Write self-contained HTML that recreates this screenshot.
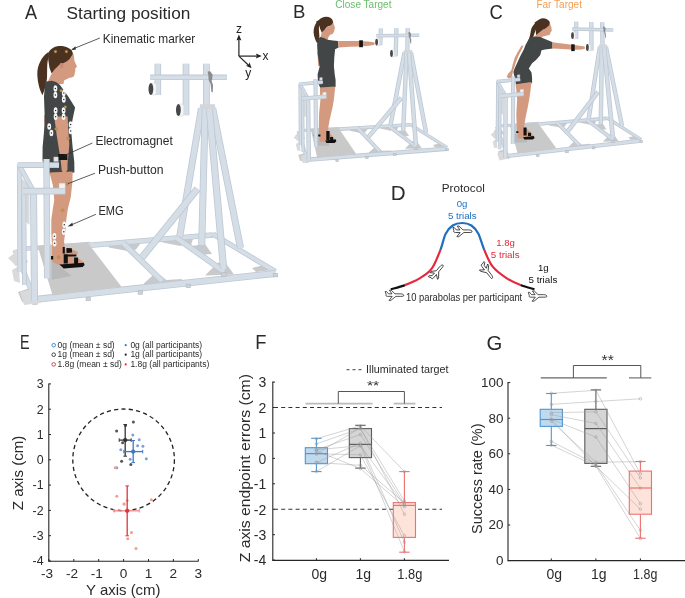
<!DOCTYPE html>
<html><head><meta charset="utf-8"><title>Figure</title>
<style>html,body{margin:0;padding:0;background:#fff;} svg{display:block;} text{font-family:"Liberation Sans",Arial,sans-serif;}</style>
</head><body>
<svg width="685" height="598" viewBox="0 0 685 598">
<rect width="685" height="598" fill="#fff"/>
<polygon points="108.0,244.7 125.5,242.5 129.2,251.3 108.8,247.6" fill="#c8c9cb" stroke="none" stroke-width="0"/>
<polygon points="127.7,242.5 142.3,241.1 135.8,249.8 132.1,249.8" fill="#c8c9cb" stroke="none" stroke-width="0"/>
<polygon points="161.3,238.9 177.4,238.1 181.8,246.2 162.8,242.5" fill="#c8c9cb" stroke="none" stroke-width="0"/>
<polygon points="181.8,238.1 193.4,237.4 190.5,246.9 184.5,242.5" fill="#c8c9cb" stroke="none" stroke-width="0"/>
<polygon points="143.8,283.4 152.6,275.4 161.0,275.9 166.5,280.0 181.8,279.0 181.8,282.0 143.8,285.5" fill="#c8c9cb" stroke="none" stroke-width="0"/>
<polygon points="192.0,246.0 205.0,244.0 212.0,254.0 198.0,255.0" fill="#c8c9cb" stroke="none" stroke-width="0"/>
<polygon points="205.0,275.5 218.0,262.5 226.0,263.5 234.0,274.5" fill="#c8c9cb" stroke="none" stroke-width="0"/>
<polygon points="252.0,268.0 266.0,264.5 272.0,270.0 256.0,272.0" fill="#c8c9cb" stroke="none" stroke-width="0"/>
<polygon points="10.0,258.0 20.0,249.0 28.0,262.0 16.0,266.0" fill="#c8c9cb" stroke="none" stroke-width="0"/>
<polygon points="18.0,292.0 30.0,288.0 36.0,300.0 22.0,302.0" fill="#c8c9cb" stroke="none" stroke-width="0"/>
<line x1="15.0" y1="250.0" x2="35.0" y2="300.0" stroke="#bdc8d4" stroke-width="5.0"/><line x1="15.0" y1="250.0" x2="35.0" y2="300.0" stroke="#d5dee7" stroke-width="3.4"/>
<line x1="20.0" y1="249.0" x2="90.4" y2="244.1" stroke="#bdc8d4" stroke-width="4.5"/><line x1="20.0" y1="249.0" x2="90.4" y2="244.1" stroke="#d5dee7" stroke-width="2.9"/>
<line x1="90.4" y1="245.2" x2="212.8" y2="235.0" stroke="#bdc8d4" stroke-width="5.6"/><line x1="90.4" y1="245.2" x2="212.8" y2="235.0" stroke="#d5dee7" stroke-width="4.0"/>
<line x1="212.8" y1="234.0" x2="275.5" y2="271.6" stroke="#bdc8d4" stroke-width="5.2"/><line x1="212.8" y1="234.0" x2="275.5" y2="271.6" stroke="#d5dee7" stroke-width="3.6"/>
<line x1="123.0" y1="243.0" x2="162.2" y2="281.1" stroke="#bdc8d4" stroke-width="6.0"/><line x1="123.0" y1="243.0" x2="162.2" y2="281.1" stroke="#d5dee7" stroke-width="4.4"/>
<line x1="176.4" y1="237.7" x2="224.0" y2="271.6" stroke="#bdc8d4" stroke-width="6.0"/><line x1="176.4" y1="237.7" x2="224.0" y2="271.6" stroke="#d5dee7" stroke-width="4.4"/>
<line x1="201.5" y1="108.4" x2="179.7" y2="236.5" stroke="#bdc8d4" stroke-width="7.0"/><line x1="201.5" y1="108.4" x2="179.7" y2="236.5" stroke="#d5dee7" stroke-width="5.4"/>
<line x1="212.7" y1="108.4" x2="240.5" y2="248.0" stroke="#bdc8d4" stroke-width="7.0"/><line x1="212.7" y1="108.4" x2="240.5" y2="248.0" stroke="#d5dee7" stroke-width="5.4"/>
<line x1="205.2" y1="108.4" x2="201.7" y2="245.0" stroke="#bdc8d4" stroke-width="7.0"/><line x1="205.2" y1="108.4" x2="201.7" y2="245.0" stroke="#d5dee7" stroke-width="5.4"/>
<line x1="209.3" y1="108.4" x2="223.6" y2="269.0" stroke="#bdc8d4" stroke-width="7.2"/><line x1="209.3" y1="108.4" x2="223.6" y2="269.0" stroke="#d5dee7" stroke-width="5.6"/>
<line x1="197.5" y1="188.7" x2="142.0" y2="257.4" stroke="#bdc8d4" stroke-width="7.2"/><line x1="197.5" y1="188.7" x2="142.0" y2="257.4" stroke="#d5dee7" stroke-width="5.6"/>
<line x1="206.4" y1="63.8" x2="206.4" y2="107.0" stroke="#bdc8d4" stroke-width="6.8"/><line x1="206.4" y1="63.8" x2="206.4" y2="107.0" stroke="#d5dee7" stroke-width="5.2"/>
<line x1="157.8" y1="63.8" x2="157.8" y2="95.0" stroke="#bdc8d4" stroke-width="6.6"/><line x1="157.8" y1="63.8" x2="157.8" y2="95.0" stroke="#d5dee7" stroke-width="5.0"/>
<line x1="186.0" y1="63.8" x2="186.0" y2="115.2" stroke="#bdc8d4" stroke-width="6.7"/><line x1="186.0" y1="63.8" x2="186.0" y2="115.2" stroke="#d5dee7" stroke-width="5.1"/>
<line x1="150.2" y1="77.3" x2="226.9" y2="77.3" stroke="#bdc8d4" stroke-width="5.4"/><line x1="150.2" y1="77.3" x2="226.9" y2="77.3" stroke="#d5dee7" stroke-width="3.8"/>
<line x1="34.0" y1="299.6" x2="275.5" y2="273.4" stroke="#bdc8d4" stroke-width="7.0"/><line x1="34.0" y1="299.6" x2="275.5" y2="273.4" stroke="#d5dee7" stroke-width="5.4"/>
<polygon points="37.7,246.3 87.6,242.6 121.5,286.8 52.6,295.5" fill="#c9c9c9" stroke="none" stroke-width="0"/>
<rect x="32.7" y="300.8" width="4.6" height="3.6" fill="#cdd1d5" stroke="#aeb5bc" stroke-width="0.5"/>
<rect x="86.0" y="297.2" width="4.6" height="3.6" fill="#cdd1d5" stroke="#aeb5bc" stroke-width="0.5"/>
<rect x="138.1" y="290.7" width="4.6" height="3.6" fill="#cdd1d5" stroke="#aeb5bc" stroke-width="0.5"/>
<rect x="186.0" y="284.1" width="4.6" height="3.6" fill="#cdd1d5" stroke="#aeb5bc" stroke-width="0.5"/>
<rect x="221.7" y="272.8" width="4.6" height="3.6" fill="#cdd1d5" stroke="#aeb5bc" stroke-width="0.5"/>
<rect x="273.2" y="273.3" width="4.6" height="3.6" fill="#cdd1d5" stroke="#aeb5bc" stroke-width="0.5"/>
<rect x="150.9" y="83.0" width="5.5" height="12.0" rx="2.0" fill="#f6f6f6" stroke="#cfcfcf" stroke-width="0.5"/>
<ellipse cx="150.9" cy="89.0" rx="2.4" ry="6.0" fill="#454849"/>
<rect x="178.4" y="104.0" width="5.5" height="12.0" rx="2.0" fill="#f6f6f6" stroke="#cfcfcf" stroke-width="0.5"/>
<ellipse cx="178.4" cy="110.0" rx="2.4" ry="6.0" fill="#454849"/>
<polygon points="207.6,71.5 210.2,71.2 212.6,74.5 212.2,79.0 211.6,81.0 213.0,85.0 212.8,92.3 211.4,92.0 210.6,84.0 208.6,80.0 208.4,76.0" fill="#8a8d90" stroke="none" stroke-width="0"/>
<polygon points="200.0,104.2 215.0,104.2 215.4,109.0 199.6,109.0" fill="#d3d6da" stroke="none" stroke-width="0"/>
<polygon points="19.5,176.0 29.5,186.0 29.5,225.0 21.0,218.0" fill="#d8dadc" stroke="none" stroke-width="0"/>
<polygon points="8.0,258.0 20.0,249.0 28.0,262.0 16.0,266.0" fill="#d8dadc" stroke="none" stroke-width="0"/>
<polygon points="20.0,292.0 32.0,289.0 41.0,303.0 24.0,305.0" fill="#d8dadc" stroke="none" stroke-width="0"/>
<polygon points="12.0,270.0 19.0,266.0 20.0,283.0 14.0,281.0" fill="#d8dadc" stroke="none" stroke-width="0"/>
<line x1="19.3" y1="164.5" x2="19.8" y2="272.0" stroke="#bdc8d4" stroke-width="4.8"/><line x1="19.3" y1="164.5" x2="19.8" y2="272.0" stroke="#d5dee7" stroke-width="3.2"/>
<line x1="23.8" y1="194.0" x2="24.5" y2="285.0" stroke="#bdc8d4" stroke-width="4.8"/><line x1="23.8" y1="194.0" x2="24.5" y2="285.0" stroke="#d5dee7" stroke-width="3.2"/>
<line x1="33.5" y1="189.0" x2="34.5" y2="301.0" stroke="#bdc8d4" stroke-width="7.0"/><line x1="33.5" y1="189.0" x2="34.5" y2="301.0" stroke="#d5dee7" stroke-width="5.4"/>
<line x1="19.3" y1="165.6" x2="32.2" y2="188.9" stroke="#bdc8d4" stroke-width="5.2"/><line x1="19.3" y1="165.6" x2="32.2" y2="188.9" stroke="#d5dee7" stroke-width="3.6"/>
<path d="M51.7,259 L71.5,276 L51.7,279.8 Z" fill="#b9b9b9"/>
<path d="M48.5,52 C44,54.5 38.5,62 37.4,71 C36.8,80 39.5,90 42.5,95.2 C44.5,90 46.5,84 47,78 C47.4,70 46.6,62 48.8,57 Z" fill="#4b3220"/>
<path d="M71.5,50.5 C73,52 73.6,54 74.1,57 L74.3,60.5 L77.0,66.8 L75.2,68.6 L75.4,71.0 L74.9,72.6 L74.3,75.6 C73.4,77.2 71.6,77.8 70.1,77.6 L66,79.4 L64.1,80.4 L63.4,84.0 L45.5,84.5 L48.1,81.1 L51.2,74.5 L58,64 L63,62.5 L69,58 Z" fill="#d39a7f"/>
<path d="M48.1,53.5 C50,48.5 55,46 60.1,46.0 C65,46.0 69.5,47.8 71.8,50.6 L72.8,54 L69.6,59 L66.5,61.5 L63.1,63.2 L60.5,63.5 L59.1,65.1 L55,69 L51.6,73.4 L49.5,68 L48.3,60 Z" fill="#4b3220"/>
<path d="M60.2,63.6 C61.5,62.6 63.2,63.2 63.3,65.2 C63.4,67 62.2,68.5 60.8,68.2 Z" fill="#c38a70"/>
<path d="M44.2,115 L51.7,116 L51.7,136 L44.5,137 Z" fill="#d39a7f"/>
<path d="M45,81.7 L51.7,80.8 L56,82 L60,85 L68.4,96.7 L75.1,107.4 L72.6,119.3 L71,128.5 L72.6,146.9 L74.3,162 L74.4,172.4 L62.6,173.4 L49.2,174.2 L44,168 L42.5,160 L42.6,147 L43.4,138.5 L44.6,125 L44.6,113.4 L44,97 Z" fill="#424647"/>
<path d="M49.5,172.5 L72.6,171.5 L72.4,182 L70.8,197.1 L67.8,209.1 L66.3,219.6 L65.6,230.2 L64.1,240.7 L64.6,248 L66.4,256 L64,259 L53,262 L52,254.2 L52,245.2 L51.3,233.2 L51.3,219.6 L52.8,209.1 L54.3,200.1 L52.8,185 Z" fill="#d39a7f"/>
<path d="M54.2,116.4 L67.6,116.4 L68.3,130 L69.3,143.5 L68.6,153.8 L67.6,162 L67.4,170 L64.5,174 L61.8,171 L60.6,160 L59.6,153.6 L56.7,135.2 Z" fill="#d39a7f"/>
<rect x="58.2" y="154.0" width="9.2" height="6.0" fill="#161616"/>
<path d="M65,249.6 L72,249.2 L77.8,252.0 L77.4,254.6 L65,255.6 Z" fill="#d39a7f"/>
<path d="M52.6,255.5 L64,254.4 L72,256.2 L80,259.2 L83.6,262.2 L82.5,264.6 L60,265.6 L52.4,262 Z" fill="#d39a7f"/>
<path d="M66.4,248 L71.8,248.2 L72.2,252.6 L66.6,253 Z M62.7,247 L64.8,247 L64.8,253.4 L62.7,253.4 Z M63.7,254.2 L67.8,254.2 L67.8,263.4 L63.7,263.4 Z M64.4,254.2 L76.4,254.6 L76.4,256.6 L64.4,256.6 Z M74.1,257.6 L78.1,257.6 L78.1,263.4 L74.1,263.4 Z M59.4,264.6 L83.8,262.8 L84.6,265 L82.6,267.1 L63.7,268.5 Z M51,256 L53.2,256 L53.2,259.6 L51,259.6 Z" fill="#111"/>
<ellipse cx="55.4" cy="88.5" rx="1.9" ry="3.3" fill="#f8f8f8"/><circle cx="55.4" cy="88.5" r="0.75" fill="#333"/>
<ellipse cx="55.4" cy="95.0" rx="1.9" ry="3.3" fill="#f8f8f8"/><circle cx="55.4" cy="95.0" r="0.75" fill="#333"/>
<ellipse cx="63.8" cy="93.0" rx="1.9" ry="3.3" fill="#f8f8f8"/><circle cx="63.8" cy="93.0" r="0.75" fill="#333"/>
<ellipse cx="63.8" cy="99.4" rx="1.9" ry="3.3" fill="#f8f8f8"/><circle cx="63.8" cy="99.4" r="0.75" fill="#333"/>
<ellipse cx="55.6" cy="110.6" rx="1.9" ry="3.3" fill="#f8f8f8"/><circle cx="55.6" cy="110.6" r="0.75" fill="#333"/>
<ellipse cx="55.6" cy="116.8" rx="1.9" ry="3.3" fill="#f8f8f8"/><circle cx="55.6" cy="116.8" r="0.75" fill="#333"/>
<ellipse cx="63.6" cy="110.6" rx="1.9" ry="3.3" fill="#f8f8f8"/><circle cx="63.6" cy="110.6" r="0.75" fill="#333"/>
<ellipse cx="63.6" cy="116.8" rx="1.9" ry="3.3" fill="#f8f8f8"/><circle cx="63.6" cy="116.8" r="0.75" fill="#333"/>
<ellipse cx="70.6" cy="124.5" rx="1.9" ry="3.3" fill="#f8f8f8"/><circle cx="70.6" cy="124.5" r="0.75" fill="#333"/>
<ellipse cx="70.6" cy="131.0" rx="1.9" ry="3.3" fill="#f8f8f8"/><circle cx="70.6" cy="131.0" r="0.75" fill="#333"/>
<ellipse cx="49.2" cy="126.5" rx="1.9" ry="3.3" fill="#f8f8f8"/><circle cx="49.2" cy="126.5" r="0.75" fill="#333"/>
<ellipse cx="51.4" cy="133.0" rx="1.9" ry="3.3" fill="#f8f8f8"/><circle cx="51.4" cy="133.0" r="0.75" fill="#333"/>
<ellipse cx="64.3" cy="224.8" rx="1.9" ry="3.3" fill="#f8f8f8"/><circle cx="64.3" cy="224.8" r="0.75" fill="#333"/>
<ellipse cx="63.8" cy="231.8" rx="1.9" ry="3.3" fill="#f8f8f8"/><circle cx="63.8" cy="231.8" r="0.75" fill="#333"/>
<ellipse cx="54.4" cy="236.2" rx="1.9" ry="3.3" fill="#f8f8f8"/><circle cx="54.4" cy="236.2" r="0.75" fill="#333"/>
<ellipse cx="54.6" cy="243.2" rx="1.9" ry="3.3" fill="#f8f8f8"/><circle cx="54.6" cy="243.2" r="0.75" fill="#333"/>
<circle cx="55.5" cy="51.6" r="1.3" fill="#d9a431" stroke="#7d7466" stroke-width="0.5"/>
<circle cx="66.4" cy="51.6" r="1.3" fill="#d9a431" stroke="#7d7466" stroke-width="0.5"/>
<circle cx="61.1" cy="90.7" r="1.3" fill="#d9a431" stroke="#7d7466" stroke-width="0.5"/>
<circle cx="65.3" cy="107" r="1.3" fill="#d9a431" stroke="#7d7466" stroke-width="0.5"/>
<circle cx="68.3" cy="138.5" r="1.3" fill="#d9a431" stroke="#7d7466" stroke-width="0.5"/>
<circle cx="67.1" cy="183.8" r="1.3" fill="#d9a431" stroke="#7d7466" stroke-width="0.5"/>
<circle cx="62.6" cy="210.3" r="1.3" fill="#d9a431" stroke="#7d7466" stroke-width="0.5"/>
<circle cx="58.7" cy="257.3" r="1.3" fill="#d9a431" stroke="#7d7466" stroke-width="0.5"/>
<circle cx="56" cy="129" r="1.3" fill="#d9a431" stroke="#7d7466" stroke-width="0.5"/>
<line x1="17.6" y1="165.1" x2="59.0" y2="165.1" stroke="#bdc8d4" stroke-width="5.6"/><line x1="17.6" y1="165.1" x2="59.0" y2="165.1" stroke="#d5dee7" stroke-width="4.0"/>
<line x1="46.5" y1="159.0" x2="47.2" y2="278.3" stroke="#bdc8d4" stroke-width="6.4"/><line x1="46.5" y1="159.0" x2="47.2" y2="278.3" stroke="#d5dee7" stroke-width="4.8"/>
<line x1="23.0" y1="191.2" x2="65.2" y2="191.2" stroke="#bdc8d4" stroke-width="6.7"/><line x1="23.0" y1="191.2" x2="65.2" y2="191.2" stroke="#d5dee7" stroke-width="5.1"/>
<polygon points="59.0,183.2 65.2,183.2 65.2,188.4 59.0,188.4" fill="#f4f4f4" stroke="#c4c4c4" stroke-width="0.5"/>
<polygon points="53.8,157.0 58.2,157.0 58.2,161.5 53.8,161.5" fill="#e4e6e8" stroke="#c0c0c0" stroke-width="0.5"/>
<polygon points="349.6,129.1 359.5,128.0 361.4,133.2 349.9,130.8" fill="#c8c9cb" stroke="none" stroke-width="0"/>
<polygon points="360.7,128.0 369.0,127.4 365.1,132.4 363.0,132.4" fill="#c8c9cb" stroke="none" stroke-width="0"/>
<polygon points="379.9,126.4 389.2,126.1 391.6,130.9 380.7,128.5" fill="#c8c9cb" stroke="none" stroke-width="0"/>
<polygon points="391.7,126.2 398.4,125.9 396.6,131.5 393.2,128.8" fill="#c8c9cb" stroke="none" stroke-width="0"/>
<polygon points="369.0,152.3 374.3,147.7 379.1,148.2 382.2,150.7 391.1,150.4 391.1,152.2 369.0,153.6" fill="#c8c9cb" stroke="none" stroke-width="0"/>
<polygon points="397.5,131.0 405.1,129.9 409.1,136.0 400.9,136.4" fill="#c8c9cb" stroke="none" stroke-width="0"/>
<polygon points="404.8,148.7 412.6,141.1 417.3,141.9 422.0,148.6" fill="#c8c9cb" stroke="none" stroke-width="0"/>
<polygon points="432.9,145.0 441.3,143.1 444.9,146.6 435.3,147.5" fill="#c8c9cb" stroke="none" stroke-width="0"/>
<polygon points="295.3,135.4 301.0,130.4 304.9,137.9 298.2,140.0" fill="#c8c9cb" stroke="none" stroke-width="0"/>
<polygon points="298.3,155.0 305.0,152.9 307.9,160.1 300.2,160.9" fill="#c8c9cb" stroke="none" stroke-width="0"/>
<line x1="298.3" y1="130.9" x2="307.4" y2="160.0" stroke="#bdc8d4" stroke-width="3.3"/><line x1="298.3" y1="130.9" x2="307.4" y2="160.0" stroke="#d5dee7" stroke-width="1.7"/>
<line x1="301.0" y1="130.4" x2="339.7" y2="128.5" stroke="#bdc8d4" stroke-width="3.0"/><line x1="301.0" y1="130.4" x2="339.7" y2="128.5" stroke="#d5dee7" stroke-width="1.4"/>
<line x1="339.7" y1="129.1" x2="409.8" y2="124.7" stroke="#bdc8d4" stroke-width="3.6"/><line x1="339.7" y1="129.1" x2="409.8" y2="124.7" stroke="#d5dee7" stroke-width="2.0"/>
<line x1="409.8" y1="124.1" x2="447.1" y2="147.6" stroke="#bdc8d4" stroke-width="3.4"/><line x1="409.8" y1="124.1" x2="447.1" y2="147.6" stroke="#d5dee7" stroke-width="1.8"/>
<line x1="358.0" y1="128.3" x2="379.7" y2="151.3" stroke="#bdc8d4" stroke-width="3.9"/><line x1="358.0" y1="128.3" x2="379.7" y2="151.3" stroke="#d5dee7" stroke-width="2.3"/>
<line x1="388.6" y1="125.9" x2="416.1" y2="146.7" stroke="#bdc8d4" stroke-width="3.9"/><line x1="388.6" y1="125.9" x2="416.1" y2="146.7" stroke="#d5dee7" stroke-width="2.3"/>
<line x1="404.5" y1="52.5" x2="390.5" y2="125.2" stroke="#bdc8d4" stroke-width="4.4"/><line x1="404.5" y1="52.5" x2="390.5" y2="125.2" stroke="#d5dee7" stroke-width="2.8"/>
<line x1="410.9" y1="52.4" x2="426.1" y2="132.8" stroke="#bdc8d4" stroke-width="4.4"/><line x1="410.9" y1="52.4" x2="426.1" y2="132.8" stroke="#d5dee7" stroke-width="2.8"/>
<line x1="406.6" y1="52.5" x2="403.2" y2="130.5" stroke="#bdc8d4" stroke-width="4.4"/><line x1="406.6" y1="52.5" x2="403.2" y2="130.5" stroke="#d5dee7" stroke-width="2.8"/>
<line x1="409.0" y1="52.5" x2="415.9" y2="145.1" stroke="#bdc8d4" stroke-width="4.5"/><line x1="409.0" y1="52.5" x2="415.9" y2="145.1" stroke="#d5dee7" stroke-width="2.9"/>
<line x1="401.4" y1="97.7" x2="368.5" y2="136.9" stroke="#bdc8d4" stroke-width="4.5"/><line x1="401.4" y1="97.7" x2="368.5" y2="136.9" stroke="#d5dee7" stroke-width="2.9"/>
<line x1="407.7" y1="28.1" x2="407.3" y2="51.7" stroke="#bdc8d4" stroke-width="4.3"/><line x1="407.7" y1="28.1" x2="407.3" y2="51.7" stroke="#d5dee7" stroke-width="2.7"/>
<line x1="380.8" y1="28.5" x2="380.3" y2="45.3" stroke="#bdc8d4" stroke-width="4.2"/><line x1="380.8" y1="28.5" x2="380.3" y2="45.3" stroke="#d5dee7" stroke-width="2.6"/>
<line x1="396.4" y1="28.3" x2="395.7" y2="56.3" stroke="#bdc8d4" stroke-width="4.3"/><line x1="396.4" y1="28.3" x2="395.7" y2="56.3" stroke="#d5dee7" stroke-width="2.7"/>
<line x1="376.4" y1="35.8" x2="419.2" y2="35.3" stroke="#bdc8d4" stroke-width="3.5"/><line x1="376.4" y1="35.8" x2="419.2" y2="35.3" stroke="#d5dee7" stroke-width="1.9"/>
<line x1="306.8" y1="159.8" x2="447.1" y2="148.7" stroke="#bdc8d4" stroke-width="4.4"/><line x1="306.8" y1="159.8" x2="447.1" y2="148.7" stroke="#d5dee7" stroke-width="2.8"/>
<polygon points="310.7,129.1 338.2,127.6 356.2,153.9 317.2,157.7" fill="#c9c9c9" stroke="none" stroke-width="0"/>
<rect x="306.0" y="160.5" width="2.6" height="2.1" fill="#cdd1d5" stroke="#aeb5bc" stroke-width="0.5"/>
<rect x="335.8" y="159.5" width="2.6" height="2.1" fill="#cdd1d5" stroke="#aeb5bc" stroke-width="0.5"/>
<rect x="365.6" y="156.6" width="2.6" height="2.1" fill="#cdd1d5" stroke="#aeb5bc" stroke-width="0.5"/>
<rect x="393.6" y="153.6" width="2.6" height="2.1" fill="#cdd1d5" stroke="#aeb5bc" stroke-width="0.5"/>
<rect x="414.8" y="147.4" width="2.6" height="2.1" fill="#cdd1d5" stroke="#aeb5bc" stroke-width="0.5"/>
<rect x="445.8" y="148.7" width="2.6" height="2.1" fill="#cdd1d5" stroke="#aeb5bc" stroke-width="0.5"/>
<rect x="376.6" y="38.7" width="3.1" height="6.9" rx="1.1" fill="#f6f6f6" stroke="#cfcfcf" stroke-width="0.5"/>
<ellipse cx="376.6" cy="42.1" rx="1.4" ry="3.4" fill="#454849"/>
<rect x="391.5" y="50.0" width="3.1" height="6.9" rx="1.1" fill="#f6f6f6" stroke="#cfcfcf" stroke-width="0.5"/>
<ellipse cx="391.5" cy="53.5" rx="1.4" ry="3.4" fill="#454849"/>
<polygon points="408.3,32.3 409.8,32.1 411.1,33.9 410.9,36.3 410.5,37.4 411.3,39.6 411.1,43.6 410.3,43.4 409.9,39.0 408.8,36.9 408.7,34.7" fill="#8a8d90" stroke="none" stroke-width="0"/>
<polygon points="403.7,50.2 412.2,50.1 412.4,52.8 403.5,52.8" fill="#d3d6da" stroke="none" stroke-width="0"/>
<polygon points="300.1,90.3 305.9,95.5 305.9,117.6 301.0,114.1" fill="#d8dadc" stroke="none" stroke-width="0"/>
<polygon points="293.6,137.4 300.5,131.7 305.1,138.7 298.2,141.6" fill="#d8dadc" stroke="none" stroke-width="0"/>
<polygon points="300.5,156.1 307.4,153.8 312.5,161.3 302.8,163.3" fill="#d8dadc" stroke="none" stroke-width="0"/>
<polygon points="295.9,144.0 299.9,141.4 300.5,151.0 297.1,150.2" fill="#d8dadc" stroke="none" stroke-width="0"/>
<line x1="300.0" y1="83.8" x2="300.4" y2="144.8" stroke="#bdc8d4" stroke-width="3.2"/><line x1="300.0" y1="83.8" x2="300.4" y2="144.8" stroke="#d5dee7" stroke-width="1.6"/>
<line x1="302.6" y1="100.3" x2="303.1" y2="151.9" stroke="#bdc8d4" stroke-width="3.2"/><line x1="302.6" y1="100.3" x2="303.1" y2="151.9" stroke="#d5dee7" stroke-width="1.6"/>
<line x1="308.1" y1="97.0" x2="308.8" y2="160.5" stroke="#bdc8d4" stroke-width="4.4"/><line x1="308.1" y1="97.0" x2="308.8" y2="160.5" stroke="#d5dee7" stroke-width="2.8"/>
<line x1="300.0" y1="84.4" x2="307.4" y2="97.0" stroke="#bdc8d4" stroke-width="3.4"/><line x1="300.0" y1="84.4" x2="307.4" y2="97.0" stroke="#d5dee7" stroke-width="1.8"/>
<path d="M315.5,136.4 L329,141 L329,145.7 L315.5,145.7 Z" fill="#b9b9b9"/>
<path d="M317.6,21.6 C315,24 313.4,28 313.6,32.5 C313.9,37 315.8,41 317.4,43.6 C318.6,41 319.4,38.5 319.4,36 C319.2,32 318.5,28 319.2,25 Z" fill="#4b3220"/>
<path d="M333.1,22 L334.2,25.5 L335,28.1 L334.4,29.5 L334.2,31 L333.8,31.8 L333.1,33.5 L331.5,34.4 L330.2,34.5 L328.2,37.4 L327.8,40.4 L320.2,38.2 L320.7,36.5 L321.7,32.4 L326.5,27.4 L331,25.5 Z" fill="#d39a7f"/>
<path d="M316.2,21.4 L320,19.4 L320.6,25.5 L317.4,26.5 Z" fill="#4b3220"/>
<path d="M318.8,20.2 C320.5,17.8 323.5,16.6 326.4,16.7 C329.5,16.9 331.6,18.2 332.4,19.8 L333.2,22.2 L331.2,25.3 L327.7,26.5 L326.3,27.6 L324.4,30.1 L321.7,32.6 L319.8,28 L319,24 Z" fill="#4b3220"/>
<path d="M317.4,52 L320.6,53 L320.6,66 L318.2,66 Z" fill="#d39a7f"/>
<path d="M320.2,37 L324,38 L327.3,39.7 L333,40.6 L337.9,41.0 L338.6,47.6 L335.1,49.2 L334.3,57.6 L333.9,65.9 L334.7,74.3 L335.6,80.1 L335.6,86.9 L329,87.7 L320.5,88.6 L318,82.7 L317.6,74.3 L319.6,66.8 L317.6,53.4 L317.1,45 L317.8,39.5 Z" fill="#424647"/>
<path d="M319.8,87.6 L335.2,86.6 L334.6,93 L333.8,100 L332.6,107 L331.1,113.4 L329.6,120 L328.4,126.8 L327.9,133.5 L319.1,134.8 L318.8,126.8 L319.1,113.4 L320.4,100 Z" fill="#d39a7f"/>
<path d="M338.2,41.1 L350,41.0 L360,40.9 L368,41.6 L372,42 L374.6,42.6 L374.4,44.8 L371,45.6 L366,45.9 L360,46.4 L350,46.8 L338.4,47.5 Z" fill="#d39a7f"/>
<rect x="359.2" y="40.3" width="3.7" height="6.9" fill="#161616"/>
<path d="M319,133 L328.2,131.5 L332,135.8 L334.4,139 L333.4,141.2 L320,141.8 Z" fill="#d39a7f"/>
<path d="M325.2,140.4 L335.6,139.2 L336.4,141.2 L334.6,143 L326.4,143 Z M326.3,131.1 L329.6,131.1 L329.6,139.9 L326.3,139.9 Z M330.1,137 L333.1,137 L333.1,139.9 L330.1,139.9 Z M313.8,134.6 L315.4,134.6 L315.4,136.2 L313.8,136.2 Z M318.2,134.6 L320.4,134.6 L320.4,136.4 L318.2,136.4 Z" fill="#111"/>
<line x1="299.0" y1="84.2" x2="322.7" y2="82.1" stroke="#bdc8d4" stroke-width="3.6"/><line x1="299.0" y1="84.2" x2="322.7" y2="82.1" stroke="#d5dee7" stroke-width="2.0"/>
<line x1="315.5" y1="79.3" x2="316.0" y2="147.0" stroke="#bdc8d4" stroke-width="4.1"/><line x1="315.5" y1="79.3" x2="316.0" y2="147.0" stroke="#d5dee7" stroke-width="2.5"/>
<line x1="302.2" y1="98.7" x2="326.3" y2="96.6" stroke="#bdc8d4" stroke-width="4.3"/><line x1="302.2" y1="98.7" x2="326.3" y2="96.6" stroke="#d5dee7" stroke-width="2.7"/>
<polygon points="322.7,92.4 326.2,92.1 326.3,95.0 322.7,95.3" fill="#f4f4f4" stroke="#c4c4c4" stroke-width="0.5"/>
<polygon points="319.7,77.8 322.2,77.5 322.2,80.1 319.7,80.3" fill="#e4e6e8" stroke="#c0c0c0" stroke-width="0.5"/>
<polygon points="549.0,123.7 558.7,122.5 560.8,127.6 549.4,125.4" fill="#c8c9cb" stroke="none" stroke-width="0"/>
<polygon points="560.0,122.5 568.0,121.7 564.5,126.8 562.4,126.8" fill="#c8c9cb" stroke="none" stroke-width="0"/>
<polygon points="578.5,120.5 587.4,120.1 589.8,124.8 579.4,122.6" fill="#c8c9cb" stroke="none" stroke-width="0"/>
<polygon points="589.8,120.1 596.2,119.7 594.6,125.2 591.3,122.6" fill="#c8c9cb" stroke="none" stroke-width="0"/>
<polygon points="568.9,146.4 573.8,141.7 578.5,142.0 581.5,144.4 590.0,143.8 590.0,145.6 568.9,147.6" fill="#c8c9cb" stroke="none" stroke-width="0"/>
<polygon points="595.4,124.7 602.6,123.6 606.5,129.3 598.8,129.9" fill="#c8c9cb" stroke="none" stroke-width="0"/>
<polygon points="602.8,141.8 609.8,134.3 614.2,134.9 618.6,141.2" fill="#c8c9cb" stroke="none" stroke-width="0"/>
<polygon points="628.4,137.5 636.0,135.5 639.3,138.7 630.6,139.8" fill="#c8c9cb" stroke="none" stroke-width="0"/>
<polygon points="493.8,131.3 499.6,126.1 504.0,133.7 497.1,136.1" fill="#c8c9cb" stroke="none" stroke-width="0"/>
<polygon points="498.0,151.5 504.9,149.1 508.2,156.2 500.2,157.4" fill="#c8c9cb" stroke="none" stroke-width="0"/>
<line x1="496.7" y1="126.6" x2="507.6" y2="156.2" stroke="#bdc8d4" stroke-width="3.3"/><line x1="496.7" y1="126.6" x2="507.6" y2="156.2" stroke="#d5dee7" stroke-width="1.7"/>
<line x1="499.6" y1="126.1" x2="539.2" y2="123.3" stroke="#bdc8d4" stroke-width="3.0"/><line x1="499.6" y1="126.1" x2="539.2" y2="123.3" stroke="#d5dee7" stroke-width="1.4"/>
<line x1="539.2" y1="124.0" x2="606.8" y2="118.4" stroke="#bdc8d4" stroke-width="3.6"/><line x1="539.2" y1="124.0" x2="606.8" y2="118.4" stroke="#d5dee7" stroke-width="2.0"/>
<line x1="606.8" y1="117.8" x2="641.2" y2="139.6" stroke="#bdc8d4" stroke-width="3.4"/><line x1="606.8" y1="117.8" x2="641.2" y2="139.6" stroke="#d5dee7" stroke-width="1.8"/>
<line x1="557.4" y1="122.8" x2="579.1" y2="145.1" stroke="#bdc8d4" stroke-width="3.9"/><line x1="557.4" y1="122.8" x2="579.1" y2="145.1" stroke="#d5dee7" stroke-width="2.3"/>
<line x1="586.8" y1="119.8" x2="613.1" y2="139.6" stroke="#bdc8d4" stroke-width="3.9"/><line x1="586.8" y1="119.8" x2="613.1" y2="139.6" stroke="#d5dee7" stroke-width="2.3"/>
<line x1="599.9" y1="46.8" x2="588.6" y2="119.2" stroke="#bdc8d4" stroke-width="4.4"/><line x1="599.9" y1="46.8" x2="588.6" y2="119.2" stroke="#d5dee7" stroke-width="2.8"/>
<line x1="605.9" y1="46.9" x2="622.0" y2="125.9" stroke="#bdc8d4" stroke-width="4.4"/><line x1="605.9" y1="46.9" x2="622.0" y2="125.9" stroke="#d5dee7" stroke-width="2.8"/>
<line x1="601.8" y1="46.8" x2="600.8" y2="124.1" stroke="#bdc8d4" stroke-width="4.4"/><line x1="601.8" y1="46.8" x2="600.8" y2="124.1" stroke="#d5dee7" stroke-width="2.8"/>
<line x1="604.0" y1="46.9" x2="612.9" y2="138.0" stroke="#bdc8d4" stroke-width="4.6"/><line x1="604.0" y1="46.9" x2="612.9" y2="138.0" stroke="#d5dee7" stroke-width="3.0"/>
<line x1="598.1" y1="91.9" x2="567.9" y2="131.2" stroke="#bdc8d4" stroke-width="4.6"/><line x1="598.1" y1="91.9" x2="567.9" y2="131.2" stroke="#d5dee7" stroke-width="3.0"/>
<line x1="602.2" y1="22.3" x2="602.5" y2="46.1" stroke="#bdc8d4" stroke-width="4.3"/><line x1="602.2" y1="22.3" x2="602.5" y2="46.1" stroke="#d5dee7" stroke-width="2.7"/>
<line x1="576.2" y1="21.7" x2="576.3" y2="39.0" stroke="#bdc8d4" stroke-width="4.2"/><line x1="576.2" y1="21.7" x2="576.3" y2="39.0" stroke="#d5dee7" stroke-width="2.6"/>
<line x1="591.3" y1="22.0" x2="591.5" y2="50.4" stroke="#bdc8d4" stroke-width="4.3"/><line x1="591.3" y1="22.0" x2="591.5" y2="50.4" stroke="#d5dee7" stroke-width="2.7"/>
<line x1="572.1" y1="29.1" x2="613.2" y2="29.9" stroke="#bdc8d4" stroke-width="3.5"/><line x1="572.1" y1="29.1" x2="613.2" y2="29.9" stroke="#d5dee7" stroke-width="1.9"/>
<line x1="507.1" y1="156.0" x2="641.2" y2="140.6" stroke="#bdc8d4" stroke-width="4.4"/><line x1="507.1" y1="156.0" x2="641.2" y2="140.6" stroke="#d5dee7" stroke-width="2.8"/>
<polygon points="509.6,124.5 537.6,122.5 556.5,148.4 517.7,153.6" fill="#c9c9c9" stroke="none" stroke-width="0"/>
<rect x="506.3" y="156.7" width="2.6" height="2.1" fill="#cdd1d5" stroke="#aeb5bc" stroke-width="0.5"/>
<rect x="536.5" y="154.6" width="2.6" height="2.1" fill="#cdd1d5" stroke="#aeb5bc" stroke-width="0.5"/>
<rect x="565.7" y="150.7" width="2.6" height="2.1" fill="#cdd1d5" stroke="#aeb5bc" stroke-width="0.5"/>
<rect x="592.3" y="146.8" width="2.6" height="2.1" fill="#cdd1d5" stroke="#aeb5bc" stroke-width="0.5"/>
<rect x="611.8" y="140.3" width="2.6" height="2.1" fill="#cdd1d5" stroke="#aeb5bc" stroke-width="0.5"/>
<rect x="639.9" y="140.6" width="2.6" height="2.1" fill="#cdd1d5" stroke="#aeb5bc" stroke-width="0.5"/>
<rect x="572.5" y="32.1" width="3.2" height="6.9" rx="1.1" fill="#f6f6f6" stroke="#cfcfcf" stroke-width="0.5"/>
<ellipse cx="572.5" cy="35.6" rx="1.4" ry="3.4" fill="#454849"/>
<rect x="587.4" y="44.0" width="3.2" height="6.9" rx="1.1" fill="#f6f6f6" stroke="#cfcfcf" stroke-width="0.5"/>
<ellipse cx="587.4" cy="47.5" rx="1.4" ry="3.4" fill="#454849"/>
<polygon points="602.9,26.5 604.3,26.4 605.6,28.2 605.4,30.7 605.1,31.8 605.9,34.0 605.8,38.0 605.1,37.8 604.6,33.4 603.5,31.2 603.4,29.0" fill="#8a8d90" stroke="none" stroke-width="0"/>
<polygon points="599.0,44.5 607.1,44.6 607.3,47.3 598.8,47.1" fill="#d3d6da" stroke="none" stroke-width="0"/>
<polygon points="497.7,87.7 503.3,92.8 503.1,114.9 498.3,111.4" fill="#d8dadc" stroke="none" stroke-width="0"/>
<polygon points="490.6,134.8 497.5,129.0 501.9,136.0 495.1,138.9" fill="#d8dadc" stroke="none" stroke-width="0"/>
<polygon points="497.2,153.4 504.0,151.0 509.1,158.5 499.4,160.5" fill="#d8dadc" stroke="none" stroke-width="0"/>
<polygon points="492.8,141.4 496.8,138.7 497.3,148.3 493.9,147.5" fill="#d8dadc" stroke="none" stroke-width="0"/>
<line x1="497.7" y1="81.2" x2="497.2" y2="142.1" stroke="#bdc8d4" stroke-width="3.2"/><line x1="497.7" y1="81.2" x2="497.2" y2="142.1" stroke="#d5dee7" stroke-width="1.6"/>
<line x1="500.0" y1="97.7" x2="499.8" y2="149.2" stroke="#bdc8d4" stroke-width="3.2"/><line x1="500.0" y1="97.7" x2="499.8" y2="149.2" stroke="#d5dee7" stroke-width="1.6"/>
<line x1="505.6" y1="94.3" x2="505.4" y2="157.7" stroke="#bdc8d4" stroke-width="4.4"/><line x1="505.6" y1="94.3" x2="505.4" y2="157.7" stroke="#d5dee7" stroke-width="2.8"/>
<line x1="497.7" y1="81.8" x2="504.8" y2="94.3" stroke="#bdc8d4" stroke-width="3.4"/><line x1="497.7" y1="81.8" x2="504.8" y2="94.3" stroke="#d5dee7" stroke-width="1.8"/>
<path d="M513.5,133 L527,137.5 L527,142.5 L513.5,142.5 Z" fill="#b9b9b9"/>
<path d="M535.4,23 C533,25 531.2,28 530.8,31 C530.4,34.5 529.4,37.5 528.6,40 C531,38.5 532.8,37.4 533.6,36 C534.6,33 535.6,30 536.8,27 Z" fill="#4b3220"/>
<path d="M549.6,21.8 L550.4,24.4 L551.5,27.5 L551.7,31.1 L550.6,32.2 L550.3,33.5 L549.5,35.1 L546.2,35.7 L542.8,36.6 L540.6,38.4 L534.4,36.6 L536.1,35.1 L538.8,33.1 L542.8,29.7 L545.5,28.4 Z" fill="#d39a7f"/>
<path d="M534.6,22.6 L537.8,20.6 L538.2,26 L535.6,27 Z" fill="#4b3220"/>
<path d="M536.4,21.8 C538.5,19.4 540.6,18.2 542.8,18.2 C546,18.2 548.5,19.6 549.8,22.0 L549.2,25.2 L545.5,28.4 L542.8,29.7 L538.8,33.1 L536.1,35.1 L535.5,29 Z" fill="#4b3220"/>
<path d="M533.4,36.4 L540.2,37.0 L545.5,39.2 L550.9,41.6 L552.6,42.2 L552.6,48.5 L545,49.6 L541.5,50.2 L540.2,55.2 L536,60 L532.1,63.2 L528.8,68.5 L531.5,72.6 L532.1,78 L532.1,83.3 L516,84.8 L514.7,77.9 L513.4,72 L514.6,68.5 L517.6,61.9 L520.6,55.4 L523.8,49.6 L525.4,45.2 L528.8,39.1 Z" fill="#424647"/>
<path d="M523.6,45.6 L521.4,45.8 L517.4,52.5 L514.7,57.8 L512.7,64.5 L511.4,69.9 L508,73.9 L506.7,76.6 L508.5,78.4 L510.6,78.0 L512,77.2 L512.7,72.6 L514,68.5 L516,61.9 L518.7,55.2 L522,49.1 Z" fill="#d39a7f"/>
<path d="M552.2,42.3 L560,43.2 L570,44.6 L578,45.6 L584.5,46.5 L585.2,48.6 L582,49.6 L575,49.8 L566,49.2 L558,48.8 L552.2,48.6 Z" fill="#d39a7f"/>
<rect x="571.2" y="44.3" width="3.5" height="6.8" fill="#161616"/>
<path d="M515.6,84.3 L531.4,82.0 L530.6,90 L529.1,100 L527.6,108 L526.1,115.1 L524.8,122 L523.8,128.6 L517.1,130.2 L516.6,122 L516.3,115.1 L517.1,100 L516.3,90 Z" fill="#d39a7f"/>
<path d="M517,129.5 L526,128.2 L530.6,132 L533.4,135.6 L532.4,138 L518,138.6 Z" fill="#d39a7f"/>
<path d="M523,137.2 L533.8,136 L534.6,138 L532.8,139.4 L524.4,139.5 Z M523.5,127.4 L526.6,127.4 L526.6,135.6 L523.5,135.6 Z M528,132.8 L531,132.8 L531,136 L528,136 Z M511.6,131.2 L513.4,131.2 L513.4,132.8 L511.6,132.8 Z M516.2,131.2 L518.4,131.2 L518.4,133 L516.2,133 Z" fill="#111"/>
<line x1="496.7" y1="81.6" x2="520.2" y2="79.4" stroke="#bdc8d4" stroke-width="3.6"/><line x1="496.7" y1="81.6" x2="520.2" y2="79.4" stroke="#d5dee7" stroke-width="2.0"/>
<line x1="513.2" y1="76.6" x2="512.8" y2="144.1" stroke="#bdc8d4" stroke-width="4.1"/><line x1="513.2" y1="76.6" x2="512.8" y2="144.1" stroke="#d5dee7" stroke-width="2.5"/>
<line x1="499.6" y1="96.1" x2="523.6" y2="93.8" stroke="#bdc8d4" stroke-width="4.3"/><line x1="499.6" y1="96.1" x2="523.6" y2="93.8" stroke="#d5dee7" stroke-width="2.7"/>
<polygon points="520.1,89.6 523.6,89.3 523.6,92.2 520.1,92.6" fill="#f4f4f4" stroke="#c4c4c4" stroke-width="0.5"/>
<polygon points="517.3,75.1 519.8,74.8 519.8,77.4 517.3,77.6" fill="#e4e6e8" stroke="#c0c0c0" stroke-width="0.5"/>
<text x="20.1" y="349.2" font-size="20.3" fill="#2a2a2a" textLength="9.6" lengthAdjust="spacingAndGlyphs">E</text>
<line x1="48.8" y1="383.4" x2="48.8" y2="561.3" stroke="#262626" stroke-width="1.1"/>
<line x1="48.3" y1="561.3" x2="198.4" y2="561.3" stroke="#262626" stroke-width="1.1"/>
<line x1="48.8" y1="561.0" x2="51.0" y2="561.0" stroke="#262626" stroke-width="1"/>
<text x="43.5" y="565.3" font-size="12.3" fill="#2a2a2a" text-anchor="end">-4</text>
<line x1="48.8" y1="535.7" x2="51.0" y2="535.7" stroke="#262626" stroke-width="1"/>
<text x="43.5" y="540.0" font-size="12.3" fill="#2a2a2a" text-anchor="end">-3</text>
<line x1="48.8" y1="510.4" x2="51.0" y2="510.4" stroke="#262626" stroke-width="1"/>
<text x="43.5" y="514.7" font-size="12.3" fill="#2a2a2a" text-anchor="end">-2</text>
<line x1="48.8" y1="485.1" x2="51.0" y2="485.1" stroke="#262626" stroke-width="1"/>
<text x="43.5" y="489.4" font-size="12.3" fill="#2a2a2a" text-anchor="end">-1</text>
<line x1="48.8" y1="459.8" x2="51.0" y2="459.8" stroke="#262626" stroke-width="1"/>
<text x="43.5" y="464.1" font-size="12.3" fill="#2a2a2a" text-anchor="end">0</text>
<line x1="48.8" y1="434.5" x2="51.0" y2="434.5" stroke="#262626" stroke-width="1"/>
<text x="43.5" y="438.8" font-size="12.3" fill="#2a2a2a" text-anchor="end">1</text>
<line x1="48.8" y1="409.2" x2="51.0" y2="409.2" stroke="#262626" stroke-width="1"/>
<text x="43.5" y="413.5" font-size="12.3" fill="#2a2a2a" text-anchor="end">2</text>
<line x1="48.8" y1="383.9" x2="51.0" y2="383.9" stroke="#262626" stroke-width="1"/>
<text x="43.5" y="388.2" font-size="12.3" fill="#2a2a2a" text-anchor="end">3</text>
<line x1="48.9" y1="561.3" x2="48.9" y2="559.0" stroke="#262626" stroke-width="1"/>
<text x="47.1" y="577.7" font-size="13.6" fill="#2a2a2a" text-anchor="middle">-3</text>
<line x1="73.8" y1="561.3" x2="73.8" y2="559.0" stroke="#262626" stroke-width="1"/>
<text x="72.0" y="577.7" font-size="13.6" fill="#2a2a2a" text-anchor="middle">-2</text>
<line x1="98.7" y1="561.3" x2="98.7" y2="559.0" stroke="#262626" stroke-width="1"/>
<text x="96.9" y="577.7" font-size="13.6" fill="#2a2a2a" text-anchor="middle">-1</text>
<line x1="123.6" y1="561.3" x2="123.6" y2="559.0" stroke="#262626" stroke-width="1"/>
<text x="123.6" y="577.7" font-size="13.6" fill="#2a2a2a" text-anchor="middle">0</text>
<line x1="148.5" y1="561.3" x2="148.5" y2="559.0" stroke="#262626" stroke-width="1"/>
<text x="148.5" y="577.7" font-size="13.6" fill="#2a2a2a" text-anchor="middle">1</text>
<line x1="173.4" y1="561.3" x2="173.4" y2="559.0" stroke="#262626" stroke-width="1"/>
<text x="173.4" y="577.7" font-size="13.6" fill="#2a2a2a" text-anchor="middle">2</text>
<line x1="198.3" y1="561.3" x2="198.3" y2="559.0" stroke="#262626" stroke-width="1"/>
<text x="198.3" y="577.7" font-size="13.6" fill="#2a2a2a" text-anchor="middle">3</text>
<text x="123.3" y="595.3" font-size="14.6" fill="#2a2a2a" text-anchor="middle" textLength="74.5" lengthAdjust="spacingAndGlyphs">Y axis (cm)</text>
<text x="22.6" y="473.0" font-size="14.6" fill="#2a2a2a" text-anchor="middle" textLength="74.5" lengthAdjust="spacingAndGlyphs" transform="rotate(-90 22.6 473.0)">Z axis (cm)</text>
<circle cx="123.6" cy="459.8" r="50.8" fill="none" stroke="#222" stroke-width="1.3" stroke-dasharray="4.2 3.2"/>
<circle cx="133.4" cy="422.1" r="1.5" fill="#555" stroke="none" stroke-width="1"/>
<circle cx="116.6" cy="431.1" r="1.5" fill="#555" stroke="none" stroke-width="1"/>
<circle cx="122.6" cy="442.8" r="1.5" fill="#555" stroke="none" stroke-width="1"/>
<circle cx="121.6" cy="461.2" r="1.5" fill="#555" stroke="none" stroke-width="1"/>
<circle cx="130.8" cy="464.6" r="1.5" fill="#555" stroke="none" stroke-width="1"/>
<circle cx="125.5" cy="425.5" r="1.5" fill="#555" stroke="none" stroke-width="1"/>
<circle cx="132.8" cy="435.1" r="1.5" fill="#7f9fd8" stroke="none" stroke-width="1"/>
<circle cx="139.2" cy="439.7" r="1.5" fill="#7f9fd8" stroke="none" stroke-width="1"/>
<circle cx="137.6" cy="445.8" r="1.5" fill="#7f9fd8" stroke="none" stroke-width="1"/>
<circle cx="142.9" cy="446.2" r="1.5" fill="#7f9fd8" stroke="none" stroke-width="1"/>
<circle cx="120.8" cy="449.8" r="1.5" fill="#7f9fd8" stroke="none" stroke-width="1"/>
<circle cx="146.3" cy="458.8" r="1.5" fill="#7f9fd8" stroke="none" stroke-width="1"/>
<circle cx="130.2" cy="459.2" r="1.5" fill="#7f9fd8" stroke="none" stroke-width="1"/>
<circle cx="116.8" cy="467.8" r="1.5" fill="#7f9fd8" stroke="none" stroke-width="1"/>
<circle cx="115.2" cy="467.8" r="1.5" fill="#f3a08a" stroke="none" stroke-width="1"/>
<circle cx="116.8" cy="496.3" r="1.5" fill="#f3a08a" stroke="none" stroke-width="1"/>
<circle cx="124.2" cy="504.0" r="1.5" fill="#f3a08a" stroke="none" stroke-width="1"/>
<circle cx="127.2" cy="500.4" r="1.5" fill="#f3a08a" stroke="none" stroke-width="1"/>
<circle cx="151.3" cy="499.8" r="1.5" fill="#f3a08a" stroke="none" stroke-width="1"/>
<circle cx="114.2" cy="510.4" r="1.5" fill="#f3a08a" stroke="none" stroke-width="1"/>
<circle cx="131.5" cy="532.5" r="1.5" fill="#f3a08a" stroke="none" stroke-width="1"/>
<circle cx="127.7" cy="538.8" r="1.5" fill="#f3a08a" stroke="none" stroke-width="1"/>
<circle cx="136.0" cy="548.5" r="1.5" fill="#f3a08a" stroke="none" stroke-width="1"/>
<circle cx="124.0" cy="503.9" r="1.5" fill="#f3a08a" stroke="none" stroke-width="1"/>
<line x1="119.2" y1="440.1" x2="131.2" y2="440.1" stroke="#333" stroke-width="1.3"/>
<line x1="125.2" y1="424.5" x2="125.2" y2="456.2" stroke="#333" stroke-width="1.3"/>
<line x1="119.2" y1="438.3" x2="119.2" y2="441.9" stroke="#333" stroke-width="1"/>
<line x1="131.2" y1="438.3" x2="131.2" y2="441.9" stroke="#333" stroke-width="1"/>
<line x1="123.4" y1="424.5" x2="127.0" y2="424.5" stroke="#333" stroke-width="1"/>
<line x1="123.4" y1="456.2" x2="127.0" y2="456.2" stroke="#333" stroke-width="1"/>
<circle cx="125.2" cy="440.1" r="1.8" fill="#333" stroke="#333" stroke-width="0.8"/>
<line x1="123.8" y1="451.6" x2="142.7" y2="451.6" stroke="#3f78c4" stroke-width="1.3"/>
<line x1="133.2" y1="440.5" x2="133.2" y2="462.6" stroke="#3f78c4" stroke-width="1.3"/>
<line x1="123.8" y1="449.8" x2="123.8" y2="453.4" stroke="#3f78c4" stroke-width="1"/>
<line x1="142.7" y1="449.8" x2="142.7" y2="453.4" stroke="#3f78c4" stroke-width="1"/>
<line x1="131.4" y1="440.5" x2="135.0" y2="440.5" stroke="#3f78c4" stroke-width="1"/>
<line x1="131.4" y1="462.6" x2="135.0" y2="462.6" stroke="#3f78c4" stroke-width="1"/>
<circle cx="133.2" cy="451.6" r="1.8" fill="#3f78c4" stroke="#3f78c4" stroke-width="0.8"/>
<line x1="114.3" y1="510.8" x2="139.3" y2="510.8" stroke="#f08c8c" stroke-width="1.3"/>
<line x1="127.2" y1="485.9" x2="127.2" y2="535.8" stroke="#e0343c" stroke-width="1.3"/>
<line x1="114.3" y1="509.0" x2="114.3" y2="512.6" stroke="#f08c8c" stroke-width="1"/>
<line x1="139.3" y1="509.0" x2="139.3" y2="512.6" stroke="#f08c8c" stroke-width="1"/>
<line x1="125.4" y1="485.9" x2="129.0" y2="485.9" stroke="#e0343c" stroke-width="1"/>
<line x1="125.4" y1="535.8" x2="129.0" y2="535.8" stroke="#e0343c" stroke-width="1"/>
<circle cx="127.2" cy="510.8" r="1.8" fill="#e0343c" stroke="#e0343c" stroke-width="0.8"/>
<circle cx="53.7" cy="345.2" r="1.8" fill="none" stroke="#3f8fd0" stroke-width="1.0"/>
<text x="57.6" y="347.6" font-size="8.5" fill="#2a2a2a">0g (mean ± sd)</text>
<circle cx="125.7" cy="345.2" r="1.1" fill="#3f78c4" stroke="none" stroke-width="1"/>
<text x="130.4" y="347.6" font-size="8.5" fill="#2a2a2a">0g (all participants)</text>
<circle cx="53.7" cy="354.7" r="1.8" fill="none" stroke="#444" stroke-width="1.0"/>
<text x="57.6" y="357.1" font-size="8.5" fill="#2a2a2a">1g (mean ± sd)</text>
<circle cx="125.7" cy="354.7" r="1.1" fill="#222" stroke="none" stroke-width="1"/>
<text x="130.4" y="357.1" font-size="8.5" fill="#2a2a2a">1g (all participants)</text>
<circle cx="53.7" cy="364.4" r="1.8" fill="none" stroke="#e04050" stroke-width="1.0"/>
<text x="57.6" y="366.8" font-size="8.5" fill="#2a2a2a">1.8g (mean ± sd)</text>
<circle cx="125.7" cy="364.4" r="1.1" fill="#e03040" stroke="none" stroke-width="1"/>
<text x="130.4" y="366.8" font-size="8.5" fill="#2a2a2a">1.8g (all participants)</text>
<text x="255.3" y="349.4" font-size="20.3" fill="#2a2a2a" textLength="11.2" lengthAdjust="spacingAndGlyphs">F</text>
<line x1="272.8" y1="381.6" x2="272.8" y2="560.4" stroke="#262626" stroke-width="1.1"/>
<line x1="272.3" y1="560.4" x2="449.0" y2="560.4" stroke="#262626" stroke-width="1.1"/>
<line x1="272.8" y1="560.1" x2="275.0" y2="560.1" stroke="#262626" stroke-width="1"/>
<text x="266.2" y="565.3" font-size="14.0" fill="#2a2a2a" text-anchor="end">-4</text>
<line x1="272.8" y1="534.7" x2="275.0" y2="534.7" stroke="#262626" stroke-width="1"/>
<text x="266.2" y="539.9" font-size="14.0" fill="#2a2a2a" text-anchor="end">-3</text>
<line x1="272.8" y1="509.3" x2="275.0" y2="509.3" stroke="#262626" stroke-width="1"/>
<text x="266.2" y="514.5" font-size="14.0" fill="#2a2a2a" text-anchor="end">-2</text>
<line x1="272.8" y1="483.8" x2="275.0" y2="483.8" stroke="#262626" stroke-width="1"/>
<text x="266.2" y="489.0" font-size="14.0" fill="#2a2a2a" text-anchor="end">-1</text>
<line x1="272.8" y1="458.4" x2="275.0" y2="458.4" stroke="#262626" stroke-width="1"/>
<text x="266.2" y="463.6" font-size="14.0" fill="#2a2a2a" text-anchor="end">0</text>
<line x1="272.8" y1="433.0" x2="275.0" y2="433.0" stroke="#262626" stroke-width="1"/>
<text x="266.2" y="438.2" font-size="14.0" fill="#2a2a2a" text-anchor="end">1</text>
<line x1="272.8" y1="407.5" x2="275.0" y2="407.5" stroke="#262626" stroke-width="1"/>
<text x="266.2" y="412.7" font-size="14.0" fill="#2a2a2a" text-anchor="end">2</text>
<line x1="272.8" y1="382.1" x2="275.0" y2="382.1" stroke="#262626" stroke-width="1"/>
<text x="266.2" y="387.3" font-size="14.0" fill="#2a2a2a" text-anchor="end">3</text>
<line x1="316.4" y1="560.4" x2="316.4" y2="558.2" stroke="#262626" stroke-width="1"/>
<text x="319.3" y="578.6" font-size="14.0" fill="#2a2a2a" text-anchor="middle">0g</text>
<line x1="360.4" y1="560.4" x2="360.4" y2="558.2" stroke="#262626" stroke-width="1"/>
<text x="363.3" y="578.6" font-size="14.0" fill="#2a2a2a" text-anchor="middle">1g</text>
<line x1="404.4" y1="560.4" x2="404.4" y2="558.2" stroke="#262626" stroke-width="1"/>
<text x="409.8" y="578.6" font-size="14.0" fill="#2a2a2a" text-anchor="middle" textLength="25.0" lengthAdjust="spacingAndGlyphs">1.8g</text>
<text x="250.5" y="468.2" font-size="14.8" fill="#2a2a2a" text-anchor="middle" textLength="188.3" lengthAdjust="spacingAndGlyphs" transform="rotate(-90 250.5 468.2)">Z axis endpoint errors (cm)</text>
<line x1="274.0" y1="407.5" x2="442.0" y2="407.5" stroke="#333" stroke-width="1.1" stroke-dasharray="4 3.2"/>
<line x1="274.0" y1="509.3" x2="442.0" y2="509.3" stroke="#333" stroke-width="1.1" stroke-dasharray="4 3.2"/>
<line x1="346.5" y1="369.6" x2="361.5" y2="369.6" stroke="#666" stroke-width="1.1" stroke-dasharray="3 3"/>
<text x="366.0" y="372.9" font-size="10.7" fill="#2a2a2a" textLength="82.5" lengthAdjust="spacingAndGlyphs">Illuminated target</text>
<line x1="305.5" y1="403.6" x2="372.5" y2="403.6" stroke="#bbb" stroke-width="1.8"/>
<line x1="393.6" y1="403.6" x2="415.4" y2="403.6" stroke="#bbb" stroke-width="1.8"/>
<polyline points="338.3,403.6 338.3,391.5 404.4,391.5 404.4,403.6" fill="none" stroke="#555" stroke-width="1"/>
<text x="366.9" y="389.6" font-size="13.5" fill="#333" textLength="12.3" lengthAdjust="spacingAndGlyphs">**</text>
<line x1="316.4" y1="438.3" x2="316.4" y2="447.7" stroke="#4f97d2" stroke-width="1.1"/>
<line x1="316.4" y1="463.7" x2="316.4" y2="471.6" stroke="#4f97d2" stroke-width="1.1"/>
<line x1="311.2" y1="438.3" x2="321.6" y2="438.3" stroke="#4f97d2" stroke-width="1.1"/>
<line x1="311.2" y1="471.6" x2="321.6" y2="471.6" stroke="#4f97d2" stroke-width="1.1"/>
<rect x="305.3" y="447.7" width="22.2" height="16.0" fill="#bfd9ef" stroke="#4f97d2" stroke-width="1.1"/>
<line x1="305.3" y1="453.6" x2="327.5" y2="453.6" stroke="#4f97d2" stroke-width="1.2"/>
<line x1="360.4" y1="425.3" x2="360.4" y2="428.6" stroke="#5c5c5c" stroke-width="1.1"/>
<line x1="360.4" y1="457.6" x2="360.4" y2="468.1" stroke="#5c5c5c" stroke-width="1.1"/>
<line x1="355.2" y1="425.3" x2="365.6" y2="425.3" stroke="#5c5c5c" stroke-width="1.1"/>
<line x1="355.2" y1="468.1" x2="365.6" y2="468.1" stroke="#5c5c5c" stroke-width="1.1"/>
<rect x="349.3" y="428.6" width="22.2" height="29.0" fill="#d5d5d5" stroke="#5c5c5c" stroke-width="1.1"/>
<line x1="349.3" y1="444.4" x2="371.5" y2="444.4" stroke="#5c5c5c" stroke-width="1.2"/>
<line x1="404.4" y1="471.6" x2="404.4" y2="502.6" stroke="#ef7070" stroke-width="1.1"/>
<line x1="404.4" y1="537.5" x2="404.4" y2="552.2" stroke="#ef7070" stroke-width="1.1"/>
<line x1="399.2" y1="471.6" x2="409.6" y2="471.6" stroke="#ef7070" stroke-width="1.1"/>
<line x1="399.2" y1="552.2" x2="409.6" y2="552.2" stroke="#ef7070" stroke-width="1.1"/>
<rect x="393.3" y="502.6" width="22.2" height="34.8" fill="#fde3d9" stroke="#ef7070" stroke-width="1.1"/>
<line x1="393.3" y1="505.4" x2="415.5" y2="505.4" stroke="#ef7070" stroke-width="1.2"/>
<polyline points="316.4,438.8 360.4,425.8 404.4,471.6" fill="none" stroke="#9a9a9a" stroke-width="0.5" stroke-opacity="0.85"/>
<circle cx="316.4" cy="438.8" r="1.3" fill="none" stroke="#999" stroke-width="0.5"/>
<circle cx="360.4" cy="425.8" r="1.3" fill="none" stroke="#999" stroke-width="0.5"/>
<circle cx="404.4" cy="471.6" r="1.3" fill="none" stroke="#999" stroke-width="0.5"/>
<polyline points="316.4,443.9 360.4,428.6 404.4,500.9" fill="none" stroke="#9a9a9a" stroke-width="0.5" stroke-opacity="0.85"/>
<circle cx="316.4" cy="443.9" r="1.3" fill="none" stroke="#999" stroke-width="0.5"/>
<circle cx="360.4" cy="428.6" r="1.3" fill="none" stroke="#999" stroke-width="0.5"/>
<circle cx="404.4" cy="500.9" r="1.3" fill="none" stroke="#999" stroke-width="0.5"/>
<polyline points="316.4,449.8 360.4,434.5 404.4,504.2" fill="none" stroke="#9a9a9a" stroke-width="0.5" stroke-opacity="0.85"/>
<circle cx="316.4" cy="449.8" r="1.3" fill="none" stroke="#999" stroke-width="0.5"/>
<circle cx="360.4" cy="434.5" r="1.3" fill="none" stroke="#999" stroke-width="0.5"/>
<circle cx="404.4" cy="504.2" r="1.3" fill="none" stroke="#999" stroke-width="0.5"/>
<polyline points="316.4,449.8 360.4,445.7 404.4,505.4" fill="none" stroke="#9a9a9a" stroke-width="0.5" stroke-opacity="0.85"/>
<circle cx="316.4" cy="449.8" r="1.3" fill="none" stroke="#999" stroke-width="0.5"/>
<circle cx="360.4" cy="445.7" r="1.3" fill="none" stroke="#999" stroke-width="0.5"/>
<circle cx="404.4" cy="505.4" r="1.3" fill="none" stroke="#999" stroke-width="0.5"/>
<polyline points="316.4,453.8 360.4,427.9 404.4,514.3" fill="none" stroke="#9a9a9a" stroke-width="0.5" stroke-opacity="0.85"/>
<circle cx="316.4" cy="453.8" r="1.3" fill="none" stroke="#999" stroke-width="0.5"/>
<circle cx="360.4" cy="427.9" r="1.3" fill="none" stroke="#999" stroke-width="0.5"/>
<circle cx="404.4" cy="514.3" r="1.3" fill="none" stroke="#999" stroke-width="0.5"/>
<polyline points="316.4,453.8 360.4,454.8 404.4,535.7" fill="none" stroke="#9a9a9a" stroke-width="0.5" stroke-opacity="0.85"/>
<circle cx="316.4" cy="453.8" r="1.3" fill="none" stroke="#999" stroke-width="0.5"/>
<circle cx="360.4" cy="454.8" r="1.3" fill="none" stroke="#999" stroke-width="0.5"/>
<circle cx="404.4" cy="535.7" r="1.3" fill="none" stroke="#999" stroke-width="0.5"/>
<polyline points="316.4,462.5 360.4,465.3 404.4,502.9" fill="none" stroke="#9a9a9a" stroke-width="0.5" stroke-opacity="0.85"/>
<circle cx="316.4" cy="462.5" r="1.3" fill="none" stroke="#999" stroke-width="0.5"/>
<circle cx="360.4" cy="465.3" r="1.3" fill="none" stroke="#999" stroke-width="0.5"/>
<circle cx="404.4" cy="502.9" r="1.3" fill="none" stroke="#999" stroke-width="0.5"/>
<polyline points="316.4,462.5 360.4,443.1 404.4,542.3" fill="none" stroke="#9a9a9a" stroke-width="0.5" stroke-opacity="0.85"/>
<circle cx="316.4" cy="462.5" r="1.3" fill="none" stroke="#999" stroke-width="0.5"/>
<circle cx="360.4" cy="443.1" r="1.3" fill="none" stroke="#999" stroke-width="0.5"/>
<circle cx="404.4" cy="542.3" r="1.3" fill="none" stroke="#999" stroke-width="0.5"/>
<polyline points="316.4,471.6 360.4,445.7 404.4,551.7" fill="none" stroke="#9a9a9a" stroke-width="0.5" stroke-opacity="0.85"/>
<circle cx="316.4" cy="471.6" r="1.3" fill="none" stroke="#999" stroke-width="0.5"/>
<circle cx="360.4" cy="445.7" r="1.3" fill="none" stroke="#999" stroke-width="0.5"/>
<circle cx="404.4" cy="551.7" r="1.3" fill="none" stroke="#999" stroke-width="0.5"/>
<polyline points="316.4,450.8 360.4,468.6 404.4,506.7" fill="none" stroke="#9a9a9a" stroke-width="0.5" stroke-opacity="0.85"/>
<circle cx="316.4" cy="450.8" r="1.3" fill="none" stroke="#999" stroke-width="0.5"/>
<circle cx="360.4" cy="468.6" r="1.3" fill="none" stroke="#999" stroke-width="0.5"/>
<circle cx="404.4" cy="506.7" r="1.3" fill="none" stroke="#999" stroke-width="0.5"/>
<text x="486.4" y="349.6" font-size="20.6" fill="#2a2a2a" textLength="15.8" lengthAdjust="spacingAndGlyphs">G</text>
<line x1="508.0" y1="382.1" x2="508.0" y2="560.6" stroke="#262626" stroke-width="1.1"/>
<line x1="507.5" y1="560.6" x2="685.0" y2="560.6" stroke="#262626" stroke-width="1.1"/>
<line x1="508.0" y1="560.6" x2="510.2" y2="560.6" stroke="#262626" stroke-width="1"/>
<text x="503.4" y="564.9" font-size="13.4" fill="#2a2a2a" text-anchor="end">0</text>
<line x1="508.0" y1="525.0" x2="510.2" y2="525.0" stroke="#262626" stroke-width="1"/>
<text x="503.4" y="529.3" font-size="13.4" fill="#2a2a2a" text-anchor="end">20</text>
<line x1="508.0" y1="489.4" x2="510.2" y2="489.4" stroke="#262626" stroke-width="1"/>
<text x="503.4" y="493.7" font-size="13.4" fill="#2a2a2a" text-anchor="end">40</text>
<line x1="508.0" y1="453.8" x2="510.2" y2="453.8" stroke="#262626" stroke-width="1"/>
<text x="503.4" y="458.1" font-size="13.4" fill="#2a2a2a" text-anchor="end">60</text>
<line x1="508.0" y1="418.2" x2="510.2" y2="418.2" stroke="#262626" stroke-width="1"/>
<text x="503.4" y="422.5" font-size="13.4" fill="#2a2a2a" text-anchor="end">80</text>
<line x1="508.0" y1="382.6" x2="510.2" y2="382.6" stroke="#262626" stroke-width="1"/>
<text x="503.4" y="386.9" font-size="13.4" fill="#2a2a2a" text-anchor="end">100</text>
<line x1="551.3" y1="560.6" x2="551.3" y2="558.4" stroke="#262626" stroke-width="1"/>
<text x="554.2" y="578.6" font-size="14.0" fill="#2a2a2a" text-anchor="middle">0g</text>
<line x1="595.9" y1="560.6" x2="595.9" y2="558.4" stroke="#262626" stroke-width="1"/>
<text x="598.8" y="578.6" font-size="14.0" fill="#2a2a2a" text-anchor="middle">1g</text>
<line x1="640.4" y1="560.6" x2="640.4" y2="558.4" stroke="#262626" stroke-width="1"/>
<text x="645.2" y="578.6" font-size="14.0" fill="#2a2a2a" text-anchor="middle" textLength="24.2" lengthAdjust="spacingAndGlyphs">1.8g</text>
<text x="482.0" y="478.7" font-size="14.8" fill="#2a2a2a" text-anchor="middle" textLength="110.4" lengthAdjust="spacingAndGlyphs" transform="rotate(-90 482.0 478.7)">Success rate (%)</text>
<line x1="540.8" y1="377.9" x2="606.8" y2="377.9" stroke="#666" stroke-width="1.1"/>
<line x1="629.0" y1="377.9" x2="651.3" y2="377.9" stroke="#666" stroke-width="1.1"/>
<polyline points="573.4,377.9 573.4,365.5 640.8,365.5 640.8,377.9" fill="none" stroke="#555" stroke-width="1"/>
<text x="601.6" y="365.4" font-size="15.3" fill="#333" textLength="12.3" lengthAdjust="spacingAndGlyphs">**</text>
<line x1="551.3" y1="393.5" x2="551.3" y2="409.3" stroke="#4f97d2" stroke-width="1.1"/>
<line x1="551.3" y1="426.4" x2="551.3" y2="445.5" stroke="#4f97d2" stroke-width="1.1"/>
<line x1="546.1" y1="393.5" x2="556.5" y2="393.5" stroke="#4f97d2" stroke-width="1.1"/>
<line x1="546.1" y1="445.5" x2="556.5" y2="445.5" stroke="#4f97d2" stroke-width="1.1"/>
<rect x="540.2" y="409.3" width="22.2" height="17.1" fill="#bfd9ef" stroke="#4f97d2" stroke-width="1.1"/>
<line x1="540.2" y1="419.5" x2="562.4" y2="419.5" stroke="#4f97d2" stroke-width="1.2"/>
<line x1="595.9" y1="389.9" x2="595.9" y2="409.3" stroke="#5c5c5c" stroke-width="1.1"/>
<line x1="595.9" y1="463.4" x2="595.9" y2="466.3" stroke="#5c5c5c" stroke-width="1.1"/>
<line x1="590.7" y1="389.9" x2="601.1" y2="389.9" stroke="#5c5c5c" stroke-width="1.1"/>
<line x1="590.7" y1="466.3" x2="601.1" y2="466.3" stroke="#5c5c5c" stroke-width="1.1"/>
<rect x="584.8" y="409.3" width="22.2" height="54.1" fill="#d5d5d5" stroke="#5c5c5c" stroke-width="1.1"/>
<line x1="584.8" y1="428.6" x2="607.0" y2="428.6" stroke="#5c5c5c" stroke-width="1.2"/>
<line x1="640.4" y1="461.5" x2="640.4" y2="471.1" stroke="#ef7070" stroke-width="1.1"/>
<line x1="640.4" y1="514.2" x2="640.4" y2="538.2" stroke="#ef7070" stroke-width="1.1"/>
<line x1="635.2" y1="461.5" x2="645.6" y2="461.5" stroke="#ef7070" stroke-width="1.1"/>
<line x1="635.2" y1="538.2" x2="645.6" y2="538.2" stroke="#ef7070" stroke-width="1.1"/>
<rect x="629.3" y="471.1" width="22.2" height="43.1" fill="#fde3d9" stroke="#ef7070" stroke-width="1.1"/>
<line x1="629.3" y1="488.0" x2="651.5" y2="488.0" stroke="#ef7070" stroke-width="1.2"/>
<polyline points="551.3,393.3 595.9,390.3 640.4,473.8" fill="none" stroke="#9a9a9a" stroke-width="0.5" stroke-opacity="0.85"/>
<circle cx="551.3" cy="393.3" r="1.3" fill="none" stroke="#999" stroke-width="0.5"/>
<circle cx="595.9" cy="390.3" r="1.3" fill="none" stroke="#999" stroke-width="0.5"/>
<circle cx="640.4" cy="473.8" r="1.3" fill="none" stroke="#999" stroke-width="0.5"/>
<polyline points="551.3,404.4 595.9,401.5 640.4,398.8" fill="none" stroke="#9a9a9a" stroke-width="0.5" stroke-opacity="0.85"/>
<circle cx="551.3" cy="404.4" r="1.3" fill="none" stroke="#999" stroke-width="0.5"/>
<circle cx="595.9" cy="401.5" r="1.3" fill="none" stroke="#999" stroke-width="0.5"/>
<circle cx="640.4" cy="398.8" r="1.3" fill="none" stroke="#999" stroke-width="0.5"/>
<polyline points="551.3,412.7 595.9,411.8 640.4,478.0" fill="none" stroke="#9a9a9a" stroke-width="0.5" stroke-opacity="0.85"/>
<circle cx="551.3" cy="412.7" r="1.3" fill="none" stroke="#999" stroke-width="0.5"/>
<circle cx="595.9" cy="411.8" r="1.3" fill="none" stroke="#999" stroke-width="0.5"/>
<circle cx="640.4" cy="478.0" r="1.3" fill="none" stroke="#999" stroke-width="0.5"/>
<polyline points="551.3,414.7 595.9,423.4 640.4,488.2" fill="none" stroke="#9a9a9a" stroke-width="0.5" stroke-opacity="0.85"/>
<circle cx="551.3" cy="414.7" r="1.3" fill="none" stroke="#999" stroke-width="0.5"/>
<circle cx="595.9" cy="423.4" r="1.3" fill="none" stroke="#999" stroke-width="0.5"/>
<circle cx="640.4" cy="488.2" r="1.3" fill="none" stroke="#999" stroke-width="0.5"/>
<polyline points="551.3,419.3 595.9,437.1 640.4,503.7" fill="none" stroke="#9a9a9a" stroke-width="0.5" stroke-opacity="0.85"/>
<circle cx="551.3" cy="419.3" r="1.3" fill="none" stroke="#999" stroke-width="0.5"/>
<circle cx="595.9" cy="437.1" r="1.3" fill="none" stroke="#999" stroke-width="0.5"/>
<circle cx="640.4" cy="503.7" r="1.3" fill="none" stroke="#999" stroke-width="0.5"/>
<polyline points="551.3,421.4 595.9,462.2 640.4,461.7" fill="none" stroke="#9a9a9a" stroke-width="0.5" stroke-opacity="0.85"/>
<circle cx="551.3" cy="421.4" r="1.3" fill="none" stroke="#999" stroke-width="0.5"/>
<circle cx="595.9" cy="462.2" r="1.3" fill="none" stroke="#999" stroke-width="0.5"/>
<circle cx="640.4" cy="461.7" r="1.3" fill="none" stroke="#999" stroke-width="0.5"/>
<polyline points="551.3,419.3 595.9,466.1 640.4,509.2" fill="none" stroke="#9a9a9a" stroke-width="0.5" stroke-opacity="0.85"/>
<circle cx="551.3" cy="419.3" r="1.3" fill="none" stroke="#999" stroke-width="0.5"/>
<circle cx="595.9" cy="466.1" r="1.3" fill="none" stroke="#999" stroke-width="0.5"/>
<circle cx="640.4" cy="509.2" r="1.3" fill="none" stroke="#999" stroke-width="0.5"/>
<polyline points="551.3,441.4 595.9,464.2 640.4,530.3" fill="none" stroke="#9a9a9a" stroke-width="0.5" stroke-opacity="0.85"/>
<circle cx="551.3" cy="441.4" r="1.3" fill="none" stroke="#999" stroke-width="0.5"/>
<circle cx="595.9" cy="464.2" r="1.3" fill="none" stroke="#999" stroke-width="0.5"/>
<circle cx="640.4" cy="530.3" r="1.3" fill="none" stroke="#999" stroke-width="0.5"/>
<polyline points="551.3,445.1 595.9,466.1 640.4,538.5" fill="none" stroke="#9a9a9a" stroke-width="0.5" stroke-opacity="0.85"/>
<circle cx="551.3" cy="445.1" r="1.3" fill="none" stroke="#999" stroke-width="0.5"/>
<circle cx="595.9" cy="466.1" r="1.3" fill="none" stroke="#999" stroke-width="0.5"/>
<circle cx="640.4" cy="538.5" r="1.3" fill="none" stroke="#999" stroke-width="0.5"/>
<path d="M390.8,289.3 C393.1,288.6 400.0,287.0 404.9,285.1" fill="none" stroke="#111" stroke-width="2.2"/>
<path d="M404.9,285.1 C409.8,283.2 415.5,280.8 420.0,278.1 C424.5,275.4 428.3,273.4 431.7,268.7 C435.1,264.0 438.1,255.8 440.4,250.0" fill="none" stroke="#e8283c" stroke-width="2.2"/>
<path d="M440.4,250.0 C442.7,244.2 443.6,237.8 445.7,233.7 C447.8,229.6 450.0,227.3 452.7,225.5 C455.4,223.7 459.0,223.0 462.1,223.0 C465.2,223.0 468.7,223.7 471.4,225.5 C474.1,227.3 476.2,229.6 478.4,233.7 C480.5,237.8 481.9,244.6 484.3,250.0" fill="none" stroke="#1f6fc0" stroke-width="2.2"/>
<path d="M484.3,250.0 C486.7,255.4 488.8,261.7 492.5,266.4 C496.2,271.1 501.8,275.0 506.5,278.1 C511.2,281.2 515.8,283.2 520.5,285.1" fill="none" stroke="#e8283c" stroke-width="2.2"/>
<path d="M520.5,285.1 C525.2,287.0 532.2,288.6 534.5,289.3" fill="none" stroke="#111" stroke-width="2.2"/>
<path d="M9.5,0.3 C9.5,-0.9 8,-1.4 6,-1.4 L0.5,-1.4 L-3.5,-5.2 L-5.3,-5.2 L-2.6,-1.4 L-6.2,-1.4 L-8.3,-3.8 L-9.6,-3.8 L-8.6,-0.6 C-9.3,0.3 -8.6,1.2 -7,1.2 L-2.4,1.2 L-5.6,5.4 L-3.8,5.4 L1.4,1.2 L6.5,1.2 C8.5,1.2 9.5,1.2 9.5,0.3 Z" transform="translate(462.5 231.3) rotate(0) scale(1.0)" fill="#fff" stroke="#111" stroke-width="0.75" stroke-linejoin="round"/>
<path d="M9.5,0.3 C9.5,-0.9 8,-1.4 6,-1.4 L0.5,-1.4 L-3.5,-5.2 L-5.3,-5.2 L-2.6,-1.4 L-6.2,-1.4 L-8.3,-3.8 L-9.6,-3.8 L-8.6,-0.6 C-9.3,0.3 -8.6,1.2 -7,1.2 L-2.4,1.2 L-5.6,5.4 L-3.8,5.4 L1.4,1.2 L6.5,1.2 C8.5,1.2 9.5,1.2 9.5,0.3 Z" transform="translate(437.0 272.0) rotate(-50) scale(0.95)" fill="#fff" stroke="#111" stroke-width="0.75" stroke-linejoin="round"/>
<path d="M9.5,0.3 C9.5,-0.9 8,-1.4 6,-1.4 L0.5,-1.4 L-3.5,-5.2 L-5.3,-5.2 L-2.6,-1.4 L-6.2,-1.4 L-8.3,-3.8 L-9.6,-3.8 L-8.6,-0.6 C-9.3,0.3 -8.6,1.2 -7,1.2 L-2.4,1.2 L-5.6,5.4 L-3.8,5.4 L1.4,1.2 L6.5,1.2 C8.5,1.2 9.5,1.2 9.5,0.3 Z" transform="translate(394.5 295.2) rotate(0) scale(0.97)" fill="#fff" stroke="#111" stroke-width="0.75" stroke-linejoin="round"/>
<path d="M9.5,0.3 C9.5,-0.9 8,-1.4 6,-1.4 L0.5,-1.4 L-3.5,-5.2 L-5.3,-5.2 L-2.6,-1.4 L-6.2,-1.4 L-8.3,-3.8 L-9.6,-3.8 L-8.6,-0.6 C-9.3,0.3 -8.6,1.2 -7,1.2 L-2.4,1.2 L-5.6,5.4 L-3.8,5.4 L1.4,1.2 L6.5,1.2 C8.5,1.2 9.5,1.2 9.5,0.3 Z" transform="translate(486.8 271.0) rotate(52) scale(0.95)" fill="#fff" stroke="#111" stroke-width="0.75" stroke-linejoin="round"/>
<path d="M9.5,0.3 C9.5,-0.9 8,-1.4 6,-1.4 L0.5,-1.4 L-3.5,-5.2 L-5.3,-5.2 L-2.6,-1.4 L-6.2,-1.4 L-8.3,-3.8 L-9.6,-3.8 L-8.6,-0.6 C-9.3,0.3 -8.6,1.2 -7,1.2 L-2.4,1.2 L-5.6,5.4 L-3.8,5.4 L1.4,1.2 L6.5,1.2 C8.5,1.2 9.5,1.2 9.5,0.3 Z" transform="translate(537.6 296.0) rotate(0) scale(0.97)" fill="#fff" stroke="#111" stroke-width="0.75" stroke-linejoin="round"/>
<text x="390.7" y="199.8" font-size="20.7" fill="#2a2a2a" textLength="14.9" lengthAdjust="spacingAndGlyphs">D</text>
<text x="441.8" y="192.2" font-size="11.6" fill="#2a2a2a" textLength="43.0" lengthAdjust="spacingAndGlyphs">Protocol</text>
<text x="462.1" y="206.8" font-size="9.6" fill="#2173c2" text-anchor="middle">0g</text>
<text x="462.3" y="218.5" font-size="9.6" fill="#2173c2" text-anchor="middle" textLength="28.8" lengthAdjust="spacingAndGlyphs">5 trials</text>
<text x="505.5" y="246.1" font-size="9.6" fill="#e8283c" text-anchor="middle">1.8g</text>
<text x="505.2" y="257.6" font-size="9.6" fill="#e8283c" text-anchor="middle" textLength="28.8" lengthAdjust="spacingAndGlyphs">5 trials</text>
<text x="543.3" y="271.2" font-size="9.6" fill="#111" text-anchor="middle">1g</text>
<text x="542.9" y="282.9" font-size="9.6" fill="#111" text-anchor="middle" textLength="28.8" lengthAdjust="spacingAndGlyphs">5 trials</text>
<text x="464.1" y="301.0" font-size="10.2" fill="#2a2a2a" text-anchor="middle" textLength="116.2" lengthAdjust="spacingAndGlyphs">10 parabolas per participant</text>
<text x="25.1" y="19.1" font-size="19.7" fill="#2a2a2a" textLength="12.1" lengthAdjust="spacingAndGlyphs">A</text>
<text x="66.6" y="18.8" font-size="17.4" fill="#2a2a2a" textLength="123.8" lengthAdjust="spacingAndGlyphs">Starting position</text>
<text x="102.8" y="42.5" font-size="12.2" fill="#2a2a2a" textLength="92.4" lengthAdjust="spacingAndGlyphs">Kinematic marker</text>
<text x="95.4" y="145.1" font-size="12.2" fill="#2a2a2a" textLength="77.4" lengthAdjust="spacingAndGlyphs">Electromagnet</text>
<text x="98.0" y="173.7" font-size="12.2" fill="#2a2a2a" textLength="65.6" lengthAdjust="spacingAndGlyphs">Push-button</text>
<text x="98.4" y="214.9" font-size="12.2" fill="#2a2a2a" textLength="25.2" lengthAdjust="spacingAndGlyphs">EMG</text>
<text x="293.1" y="18.4" font-size="19.0" fill="#2a2a2a" textLength="12.4" lengthAdjust="spacingAndGlyphs">B</text>
<text x="335.3" y="8.1" font-size="11.0" fill="#6abf69" textLength="56.2" lengthAdjust="spacingAndGlyphs">Close Target</text>
<text x="489.6" y="18.9" font-size="19.4" fill="#2a2a2a" textLength="13.3" lengthAdjust="spacingAndGlyphs">C</text>
<text x="536.4" y="8.1" font-size="11.0" fill="#f0a055" textLength="45.6" lengthAdjust="spacingAndGlyphs">Far Target</text>
<line x1="99.9" y1="38.0" x2="72.0" y2="49.3" stroke="#333" stroke-width="0.8"/>
<line x1="92.4" y1="143.0" x2="64.5" y2="155.5" stroke="#333" stroke-width="0.8"/>
<line x1="95.0" y1="173.2" x2="67.9" y2="183.7" stroke="#333" stroke-width="0.8"/>
<line x1="95.9" y1="214.3" x2="70.0" y2="225.5" stroke="#333" stroke-width="0.8"/>
<path d="M67.6,226.6 L72.4,222.5 L72.8,226.0 Z" fill="#333"/>
<path d="M71.2,50.3 L75.4,46.2 L76.0,49.4 Z" fill="#333"/>
<line x1="238.9" y1="56.1" x2="238.9" y2="37.5" stroke="#222" stroke-width="1.2"/>
<path d="M238.9,34.6 L236.4,40.6 L238.9,39.4 L241.4,40.6 Z" fill="#222"/>
<line x1="238.9" y1="56.1" x2="258.8" y2="56.1" stroke="#222" stroke-width="1.2"/>
<path d="M261.8,56.1 L255.8,53.6 L257.0,56.1 L255.8,58.6 Z" fill="#222"/>
<line x1="238.9" y1="56.1" x2="249.6" y2="66.2" stroke="#222" stroke-width="1.2"/>
<path d="M251.6,68.2 L249.4,62.2 L248.6,65.0 L245.8,65.8 Z" fill="#222"/>
<text x="236.0" y="32.6" font-size="12.0" fill="#222">z</text>
<text x="262.6" y="59.5" font-size="12.0" fill="#222">x</text>
<text x="245.3" y="77.0" font-size="12.0" fill="#222">y</text>
</svg>
</body></html>
